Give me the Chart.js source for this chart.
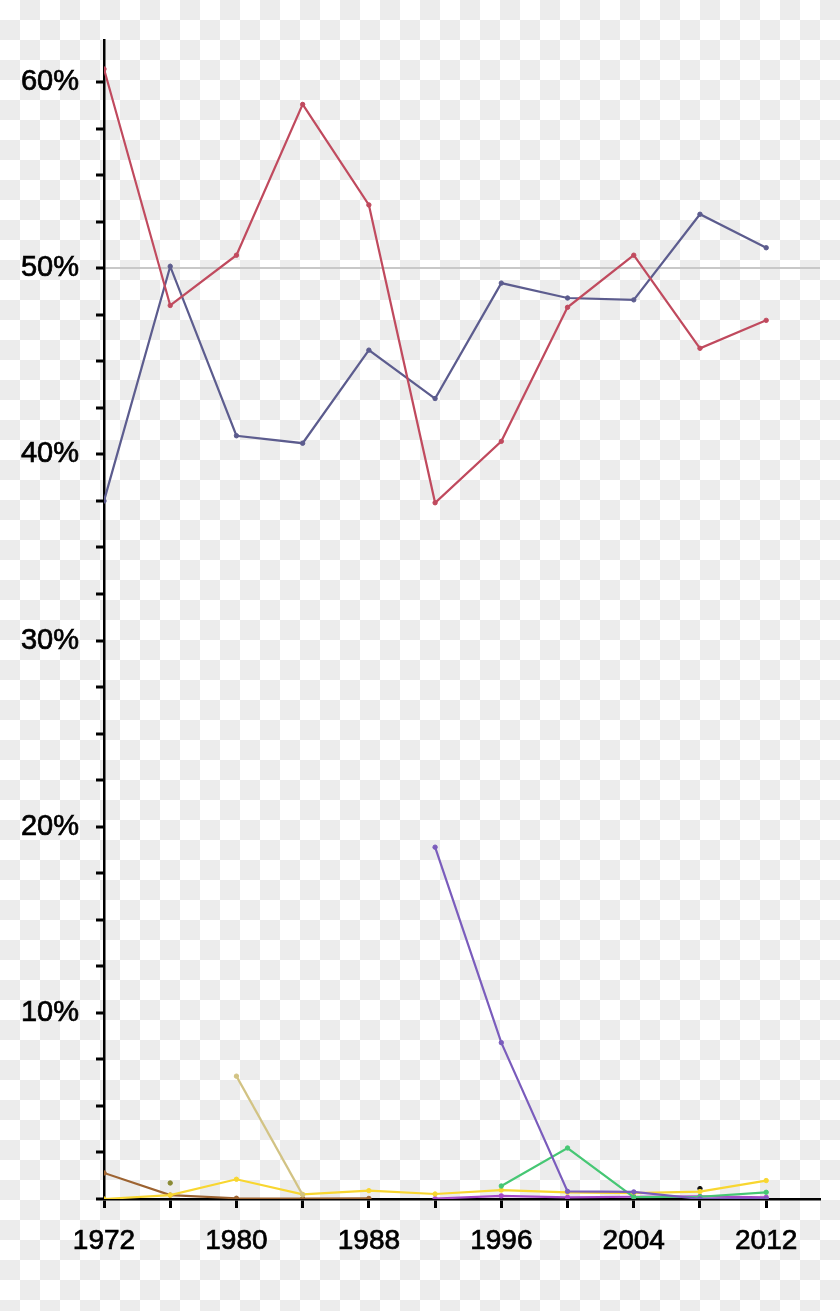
<!DOCTYPE html>
<html>
<head>
<meta charset="utf-8">
<script src="https://cdn.jsdelivr.net/npm/chart.js@4"></script>
<style>
  html, body { margin: 0; padding: 0; }
  body {
    width: 840px; height: 1311px; overflow: hidden;
    background: repeating-conic-gradient(#ececec 0% 25%, #ffffff 0% 50%) 0 0 / 40px 40px;
  }
  canvas { display: block; }
</style>
</head>
<body>
<canvas id="votes" width="840" height="1311"></canvas>
<script>
// election years and popular vote shares (%)
const years = [1972, 1976, 1980, 1984, 1988, 1992, 1996, 2000, 2004, 2008, 2012];
const republican = [60.7, 48.0, 50.7, 58.8, 53.4, 37.4, 40.7, 47.9, 50.7, 45.7, 47.2];
const democratic = [37.5, 50.1, 41.0, 40.6, 45.6, 43.0, 49.2, 48.4, 48.3, 52.9, 51.1];
const reform = [null, null, null, null, null, 18.9, 8.4, 0.41, 0.38, 0.01, 0.01];
const anderson = [null, null, 6.6, 0.22, null, null, null, null, null, null, null];
const libertarian = [0.0, 0.21, 1.06, 0.25, 0.45, 0.27, 0.48, 0.36, 0.32, 0.4, 0.99];
const green = [null, null, null, null, null, null, 0.7, 2.74, 0.1, 0.12, 0.36];
const constitution = [null, null, null, null, null, 0.02, 0.17, 0.09, 0.12, 0.14, 0.09];
const americanIndependent = [1.4, 0.21, 0.04, 0.02, 0.03, null, null, null, null, null, null];
const mccarthy = [null, 0.86, null, null, null, null, null, null, null, null, null];
const naderIndependent = [null, null, null, null, null, null, null, null, null, 0.56, null];

const xTicks = { min: 1972, max: 2015.25, step: 4, labelEvery: 8 };
const yTicks = { min: 0, max: 62.26, step: 2.5, labelEvery: 10 };

const series = [
  { label: 'Republican', data: republican, color: '#c04a5e' },
  { label: 'Democratic', data: democratic, color: '#5c5c8e' },
  { label: 'Reform', data: reform, color: '#7a5cbc' },
  { label: 'Anderson', data: anderson, color: '#d2c384' },
  { label: 'Green', data: green, color: '#46c774' },
  { label: 'Libertarian', data: libertarian, color: '#f8d630' },
  { label: 'Constitution', data: constitution, color: '#a848c8' },
  { label: 'American Independent', data: americanIndependent, color: '#9c6230' },
  { label: 'McCarthy', data: mccarthy, color: '#8a8a34' },
  { label: 'Nader', data: naderIndependent, color: '#111111' }
];

const toPoints = arr => years.map((yr, i) => ({ x: yr, y: arr[i] }));

const datasets = series.map(s => ({
  label: s.label,
  data: toPoints(s.data),
  borderColor: s.color,
  backgroundColor: s.color,
  pointBackgroundColor: s.color,
  pointBorderColor: s.color,
  borderWidth: 2.2,
  pointRadius: 2.2,
  pointBorderWidth: 1,
  spanGaps: false,
  tension: 0
}));

const yFont = { family: '"Liberation Sans", Arial, sans-serif', size: 29 };
const xFont = { family: '"Liberation Sans", Arial, sans-serif', size: 28 };

new Chart(document.getElementById('votes'), {
  type: 'line',
  data: { datasets },
  options: {
    responsive: false,
    animation: false,
    layout: { padding: { top: 40, right: 20, left: 0, bottom: 0 } },
    plugins: { legend: { display: false }, tooltip: { enabled: false } },
    scales: {
      x: {
        type: 'linear',
        min: xTicks.min,
        max: xTicks.max,
        afterFit: s => { s.height = 112; },
        afterBuildTicks: s => {
          const t = [];
          for (let v = xTicks.min; v <= xTicks.max; v += xTicks.step) t.push({ value: v });
          s.ticks = t;
        },
        ticks: {
          color: '#000',
          font: xFont,
          padding: 16,
          maxRotation: 0,
          autoSkip: false,
          textStrokeColor: '#000',
          textStrokeWidth: 0.7,
          callback: v => ((v - xTicks.min) % xTicks.labelEvery === 0 ? String(v) : '')
        },
        grid: { drawOnChartArea: false, tickColor: '#000', tickLength: 9, tickWidth: 3 },
        border: { display: true, color: '#000', width: 2.5 }
      },
      y: {
        type: 'linear',
        min: yTicks.min,
        max: yTicks.max,
        afterFit: s => { s.width = 104; },
        afterBuildTicks: s => {
          const t = [];
          for (let v = yTicks.min; v <= yTicks.max; v += yTicks.step) t.push({ value: v });
          s.ticks = t;
        },
        ticks: {
          color: '#000',
          font: yFont,
          padding: 17,
          autoSkip: false,
          textStrokeColor: '#000',
          textStrokeWidth: 0.7,
          callback: v => (v > 0 && v % yTicks.labelEvery === 0 ? v + '%' : '')
        },
        grid: {
          drawOnChartArea: true,
          color: c => (c.tick && c.tick.value === 50 ? '#c8c8c8' : 'rgba(0,0,0,0)'),
          lineWidth: 2,
          tickColor: '#000',
          tickLength: 8,
          tickWidth: 3
        },
        border: { display: true, color: '#000', width: 2.5 }
      }
    }
  }
});
</script>
</body>
</html>
